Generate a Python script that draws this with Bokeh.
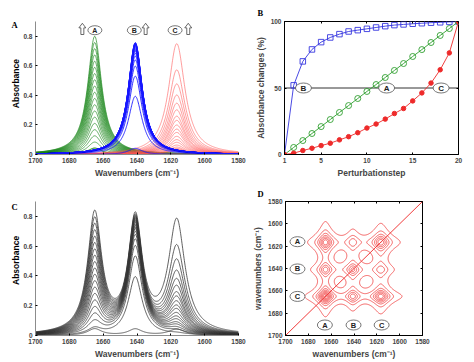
import numpy as np
from bokeh.plotting import figure
from bokeh.layouts import column, row
from bokeh.models import Range1d, LinearAxis, FixedTicker
from bokeh.core.properties import value
from bokeh.embed import file_html
from bokeh.resources import INLINE

# ---------------- data ----------------
steps = list(range(1, 21))
change_A = [0, 5.3, 10.5, 15.8, 21.0, 26.3, 31.6, 36.8, 42.1, 47.4, 52.6, 57.9,
            63.2, 68.4, 73.7, 78.9, 84.2, 89.5, 94.7, 100]
change_B = [0, 52, 70, 79, 84.5, 88, 90.5, 92.5, 93.5, 94.5, 95.5, 96.5, 97.3,
            97.8, 98.3, 98.7, 99.1, 99.4, 99.7, 100]
change_C = [0, 1, 3, 4.7, 6.7, 8.5, 11, 13.4, 16.4, 19.9, 22.9, 26.6, 30.8,
            34.6, 40.3, 46.3, 53.7, 63.7, 76.4, 100]
first_spectrum_change = 5.5   # % of every band in the lowest spectrum

band_labels = ["A", "B", "C"]
band_center = [1665.0, 1641.0, 1616.5]
band_hwhm = [5.0, 5.0, 5.9]
band_height = [0.80, 0.757, 0.75]

wn_ticks = [1700, 1680, 1660, 1640, 1620, 1600, 1580]
abs_ticks = [0, 0.2, 0.4, 0.6, 0.8]
step_ticks = [1, 5, 10, 15, 20]
pct_ticks = [0, 50, 100]

# label placements
tagA_x = [1664.9, 1641.6, 1617.5]
arrowA_x = [1672.3, 1634.9, 1609.7]
tagB_x = [3.07, 12.15, 18.1]
tagD_left_y = [1616, 1640.4, 1665]
tagD_bottom_x = [1665.5, 1640.4, 1615.8]

FONT = "Liberation Sans"
SERIF = "Liberation Serif"
GREEN, BLUE, RED = "#1f8a1f", "#1a1aff", "#ff5a5a"

# ---------------- derived spectra ----------------
changes = [change_A, change_B, change_C]
spec_frac = [[first_spectrum_change] + list(ch[1:]) for ch in changes]


def band(grid, k, frac):
    return band_height[k] * frac / 100.0 / (1.0 + ((grid - band_center[k]) / band_hwhm[k]) ** 2)


nu = np.linspace(1700, 1580, 601)
components = [[band(nu, k, f) for f in spec_frac[k]] for k in range(3)]
total = [components[0][s] + components[1][s] + components[2][s] for s in range(len(steps))]

nu_c = np.linspace(1700, 1580, 241)
Yc = np.array([sum(band(nu_c, k, spec_frac[k][s]) for k in range(3)) for s in range(len(steps))])
dyn = Yc - Yc.mean(axis=0)
phi = dyn.T @ dyn / (len(steps) - 1)
levels = list(phi.max() * np.arange(0.08, 1.0, 0.1))


# ---------------- helpers ----------------
def style(p, axis_color, box):
    p.grid.visible = False
    p.background_fill_color = "white"
    p.border_fill_color = "white"
    p.outline_line_color = "black" if box else None
    for ax in p.axis:
        ax.axis_line_color = axis_color
        ax.axis_line_width = 1
        ax.major_tick_in = 2
        ax.major_tick_out = 0
        ax.major_tick_line_color = "black"
        ax.minor_tick_line_color = None
        ax.major_label_text_font = FONT
        ax.major_label_text_font_style = "bold"
        ax.major_label_text_font_size = "6.5px"
        ax.major_label_standoff = 3
        ax.axis_label_text_font = FONT
        ax.axis_label_text_font_style = "bold"
        ax.axis_label_text_font_size = "8.5px"
        ax.axis_label_standoff = 2


def box_ticks(p, xt, yt):
    for ticks, side in ((xt, "above"), (yt, "right")):
        ax = LinearAxis(ticker=FixedTicker(ticks=ticks), major_label_text_font_size="0px",
                        major_label_text_alpha=0, major_tick_in=2, major_tick_out=0,
                        major_tick_line_color="black", minor_tick_line_color=None,
                        axis_line_color=None, major_label_standoff=0)
        p.add_layout(ax, side)


def tags(p, xs, ys, labels, w, h, fs):
    p.ellipse(x=xs, y=ys, width=w, height=h, width_units="screen", height_units="screen",
              fill_color="white", line_color="#555555", line_width=0.8)
    p.text(x=xs, y=ys, text=labels, text_align="center", text_baseline="middle",
           text_font=value(FONT), text_font_style="bold", text_font_size=fs, text_color="#222222")


def letter_title(p, offset, standoff):
    p.title.align = "left"
    p.title.offset = offset
    p.title.standoff = standoff
    p.title.text_font = SERIF
    p.title.text_font_style = "bold"
    p.title.text_font_size = "8.5px"
    p.title.text_color = "black"


def side_strip(height, letter, letter_xy, title, title_xy):
    """Narrow strip left of a spectrum panel: panel letter and the y-axis title."""
    s = figure(width=20, height=height, x_range=Range1d(0, 20), y_range=Range1d(height, 0),
               x_axis_type=None, y_axis_type=None, min_border=0,
               output_backend="svg", toolbar_location=None)
    s.outline_line_color = None
    s.grid.visible = False
    s.text(x=[letter_xy[0]], y=[letter_xy[1]], text=[letter], text_align="center",
           text_baseline="middle", text_font=value(SERIF), text_font_style="bold",
           text_font_size="8.5px", text_color="black")
    s.text(x=[title_xy[0]], y=[title_xy[1]], text=[title], angle=np.pi / 2, text_align="center",
           text_baseline="middle", text_font=value(FONT), text_font_style="bold",
           text_font_size="8.5px", text_color="black")
    return s


common = dict(output_backend="svg", toolbar_location=None)

# ---------------- panel A ----------------
pA = figure(width=227, height=180, x_range=Range1d(1700, 1580), y_range=Range1d(0, 0.9),
            min_border_left=13, min_border_right=9, min_border_top=1, min_border_bottom=26, **common)
pA.multi_line(xs=[nu] * len(steps), ys=components[0], line_color=GREEN, line_width=0.7)
pA.multi_line(xs=[nu] * len(steps), ys=components[2], line_color=RED, line_width=0.6)
pA.multi_line(xs=[nu] * len(steps), ys=components[1], line_color=BLUE, line_width=0.9)
sx = 120 / 205.0
top, base, bot = 0.888, 0.857, 0.812
axs = [[x - 1.5 * sx, x - 1.5 * sx, x - 3.5 * sx, x, x + 3.5 * sx, x + 1.5 * sx, x + 1.5 * sx] for x in arrowA_x]
ays = [[bot, base, base, top, base, base, bot] for _ in arrowA_x]
pA.patches(xs=axs, ys=ays, fill_color="white", line_color="#444444", line_width=0.8)
tags(pA, tagA_x, [0.841] * 3, band_labels, 14, 9, "7px")
pA.xaxis.ticker = FixedTicker(ticks=wn_ticks)
pA.yaxis.ticker = FixedTicker(ticks=abs_ticks)
pA.xaxis.axis_label = "Wavenumbers (cm\u207b\u00b9)"
style(pA, "#8c8c8c", False)
sA = side_strip(180, "A", (14, 5), "Absorbance", (15, 84))

# ---------------- panel B ----------------
pB = figure(width=227, height=180, x_range=Range1d(1, 20), y_range=Range1d(0, 100), title="B",
            min_border_left=37, min_border_right=16, min_border_top=21, min_border_bottom=24, **common)
pB.line(x=[1, 20], y=[50, 50], line_color="#333333", line_width=1)
pB.line(x=steps, y=change_B, line_color="#3535e0", line_width=0.9)
pB.scatter(x=steps[1:], y=change_B[1:], marker="square", size=5.5, fill_color=None,
           line_color="#3535e0", line_width=0.9)
pB.line(x=steps, y=change_A, line_color="#2f9f2f", line_width=0.9)
pB.scatter(x=steps[1:], y=change_A[1:], marker="circle", size=6, fill_color=None,
           line_color="#2f9f2f", line_width=0.9)
pB.line(x=steps, y=change_C, line_color="#ee2a2a", line_width=0.9)
pB.scatter(x=steps, y=change_C, marker="circle", size=4.5, fill_color="#ee2a2a",
           line_color="#ee2a2a")
tags(pB, tagB_x, [50] * 3, ["B", "A", "C"], 16, 10, "8px")
pB.xaxis.ticker = FixedTicker(ticks=step_ticks)
pB.yaxis.ticker = FixedTicker(ticks=pct_ticks)
pB.xaxis.axis_label = "Perturbationstep"
pB.yaxis.axis_label = "Absorbance changes (%)"
style(pB, "black", True)
box_ticks(pB, step_ticks, pct_ticks)
letter_title(pB, -27, 8)

# ---------------- panel C ----------------
pC = figure(width=227, height=182, x_range=Range1d(1700, 1580), y_range=Range1d(0, 0.9),
            min_border_left=13, min_border_right=9, min_border_top=5, min_border_bottom=27, **common)
pC.multi_line(xs=[nu] * len(steps), ys=total, line_color="#383838", line_width=0.8)
pC.xaxis.ticker = FixedTicker(ticks=wn_ticks)
pC.yaxis.ticker = FixedTicker(ticks=abs_ticks)
pC.xaxis.axis_label = "Wavenumbers (cm\u207b\u00b9)"
style(pC, "#8c8c8c", False)
sC = side_strip(182, "C", (14, 8), "Absorbance", (15, 80))

# ---------------- panel D ----------------
pD = figure(width=227, height=182, x_range=Range1d(1700, 1580), y_range=Range1d(1700, 1580), title="D",
            min_border_left=38, min_border_right=52, min_border_top=21, min_border_bottom=25, **common)
pD.contour(nu_c, nu_c, phi, levels, line_color="#f03a3a", line_width=0.8)
pD.line(x=[1700, 1580], y=[1700, 1580], line_color="#f03a3a", line_width=1)
tags(pD, [1689.5] * 3, tagD_left_y, band_labels, 15, 10, "7.5px")
tags(pD, tagD_bottom_x, [1690.6] * 3, band_labels, 15, 10, "7.5px")
pD.xaxis.ticker = FixedTicker(ticks=wn_ticks)
pD.yaxis.ticker = FixedTicker(ticks=wn_ticks)
pD.xaxis.axis_label = "wavenumbers (cm\u207b\u00b9)"
pD.yaxis.axis_label = "wavenumbers (cm\u207b\u00b9)"
style(pD, "black", True)
box_ticks(pD, wn_ticks, wn_ticks)
letter_title(pD, -28, 6)

layout = column(row(sA, pA, pB), row(sC, pC, pD))
open("out.html", "w").write(file_html(layout, INLINE))
